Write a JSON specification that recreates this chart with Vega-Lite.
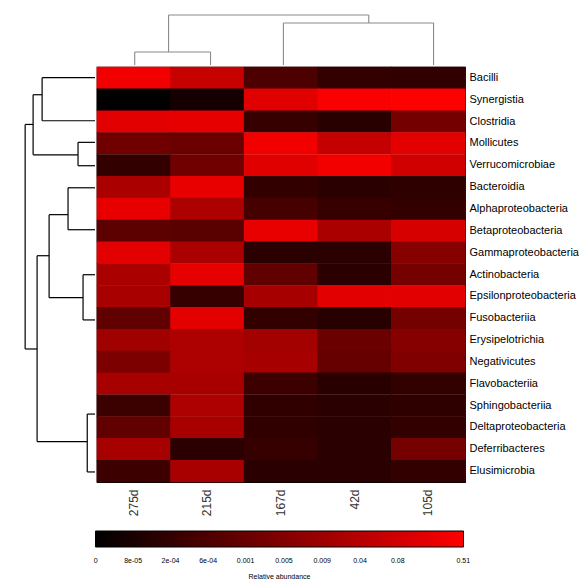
{
  "$schema": "https://vega.github.io/schema/vega-lite/v6.json",
  "padding": 0,
  "background": "white",
  "config": {
    "view": {"stroke": null},
    "font": "Liberation Sans",
    "axis": {"labelFont": "Liberation Sans"},
    "legend": {"labelFont": "Liberation Sans", "titleFont": "Liberation Sans"}
  },
  "spacing": 0,
  "vconcat": [
    {
      "width": 463,
      "height": 65,
      "data": {
        "values": [
          {"c1": 0.54, "c2": 0.54, "h1": 0, "h2": 0.26},
          {"c1": 1.57, "c2": 1.57, "h1": 0, "h2": 0.26},
          {"c1": 0.54, "c2": 1.57, "h1": 0.26, "h2": 0.26},
          {"c1": 1.0, "c2": 1.0, "h1": 0.26, "h2": 1.0},
          {"c1": 1.0, "c2": 3.72, "h1": 1.0, "h2": 1.0},
          {"c1": 3.72, "c2": 3.72, "h1": 0.84, "h2": 1.0},
          {"c1": 2.56, "c2": 4.6, "h1": 0.84, "h2": 0.84},
          {"c1": 2.56, "c2": 2.56, "h1": 0, "h2": 0.84},
          {"c1": 4.6, "c2": 4.6, "h1": 0, "h2": 0.84}
        ]
      },
      "mark": {"type": "rule", "color": "#8a8a8a", "strokeWidth": 1.1},
      "encoding": {
        "x": {"field": "c1", "type": "quantitative", "scale": {"domain": [-1.29, 5], "nice": false, "zero": false}, "axis": null},
        "x2": {"field": "c2"},
        "y": {"field": "h1", "type": "quantitative", "scale": {"domain": [0, 1.3], "nice": false}, "axis": null},
        "y2": {"field": "h2"}
      }
    },
    {
      "spacing": 0,
      "hconcat": [
        {
          "width": 95,
          "height": 415,
          "data": {
            "values": [
              {"h1": 0.757, "h2": 0, "r1": 0.49, "r2": 0.49},
              {"h1": 0.757, "h2": 0, "r1": 2.46, "r2": 2.46},
              {"h1": 0.757, "h2": 0.757, "r1": 0.49, "r2": 2.46},
              {"h1": 0.886, "h2": 0.757, "r1": 1.27, "r2": 1.27},
              {"h1": 0.886, "h2": 0.886, "r1": 1.27, "r2": 4.02},
              {"h1": 0.886, "h2": 0.243, "r1": 4.02, "r2": 4.02},
              {"h1": 0.243, "h2": 0.243, "r1": 3.45, "r2": 4.52},
              {"h1": 0.243, "h2": 0, "r1": 3.45, "r2": 3.45},
              {"h1": 0.243, "h2": 0, "r1": 4.52, "r2": 4.52},
              {"h1": 1.0, "h2": 0.886, "r1": 2.63, "r2": 2.63},
              {"h1": 1.0, "h2": 1.0, "r1": 2.63, "r2": 12.91},
              {"h1": 1.0, "h2": 0.829, "r1": 12.91, "r2": 12.91},
              {"h1": 0.829, "h2": 0.829, "r1": 8.64, "r2": 17.15},
              {"h1": 0.829, "h2": 0.657, "r1": 8.64, "r2": 8.64},
              {"h1": 0.657, "h2": 0.657, "r1": 6.76, "r2": 10.56},
              {"h1": 0.657, "h2": 0.386, "r1": 6.76, "r2": 6.76},
              {"h1": 0.386, "h2": 0.386, "r1": 5.53, "r2": 7.45},
              {"h1": 0.386, "h2": 0, "r1": 5.53, "r2": 5.53},
              {"h1": 0.386, "h2": 0, "r1": 7.45, "r2": 7.45},
              {"h1": 0.657, "h2": 0.171, "r1": 10.56, "r2": 10.56},
              {"h1": 0.171, "h2": 0.171, "r1": 9.51, "r2": 11.58},
              {"h1": 0.171, "h2": 0, "r1": 9.51, "r2": 9.51},
              {"h1": 0.171, "h2": 0, "r1": 11.58, "r2": 11.58},
              {"h1": 0.829, "h2": 0.111, "r1": 17.15, "r2": 17.15},
              {"h1": 0.111, "h2": 0.111, "r1": 15.89, "r2": 18.54},
              {"h1": 0.111, "h2": 0, "r1": 15.89, "r2": 15.89},
              {"h1": 0.111, "h2": 0, "r1": 18.54, "r2": 18.54}
            ]
          },
          "mark": {"type": "rule", "color": "black", "strokeWidth": 1.2},
          "encoding": {
            "x": {"field": "h1", "type": "quantitative", "scale": {"domain": [0, 1.36], "nice": false, "reverse": true}, "axis": null},
            "x2": {"field": "h2"},
            "y": {"field": "r1", "type": "quantitative", "scale": {"domain": [0, 19], "nice": false, "reverse": true}, "axis": null},
            "y2": {"field": "r2"}
          }
        },
        {
          "width": 368,
          "height": 415,
          "view": {"stroke": "black", "strokeWidth": 1.2},
          "data": {
            "values": [
              {"taxon": "Bacilli", "day": "275d", "k": 0.95},
              {"taxon": "Bacilli", "day": "215d", "k": 0.78},
              {"taxon": "Bacilli", "day": "167d", "k": 0.30},
              {"taxon": "Bacilli", "day": "42d", "k": 0.20},
              {"taxon": "Bacilli", "day": "105d", "k": 0.19},
              {"taxon": "Synergistia", "day": "275d", "k": 0.0},
              {"taxon": "Synergistia", "day": "215d", "k": 0.08},
              {"taxon": "Synergistia", "day": "167d", "k": 0.88},
              {"taxon": "Synergistia", "day": "42d", "k": 0.98},
              {"taxon": "Synergistia", "day": "105d", "k": 1.0},
              {"taxon": "Clostridia", "day": "275d", "k": 0.89},
              {"taxon": "Clostridia", "day": "215d", "k": 0.90},
              {"taxon": "Clostridia", "day": "167d", "k": 0.21},
              {"taxon": "Clostridia", "day": "42d", "k": 0.16},
              {"taxon": "Clostridia", "day": "105d", "k": 0.46},
              {"taxon": "Mollicutes", "day": "275d", "k": 0.44},
              {"taxon": "Mollicutes", "day": "215d", "k": 0.42},
              {"taxon": "Mollicutes", "day": "167d", "k": 0.95},
              {"taxon": "Mollicutes", "day": "42d", "k": 0.77},
              {"taxon": "Mollicutes", "day": "105d", "k": 0.89},
              {"taxon": "Verrucomicrobiae", "day": "275d", "k": 0.20},
              {"taxon": "Verrucomicrobiae", "day": "215d", "k": 0.44},
              {"taxon": "Verrucomicrobiae", "day": "167d", "k": 0.88},
              {"taxon": "Verrucomicrobiae", "day": "42d", "k": 0.95},
              {"taxon": "Verrucomicrobiae", "day": "105d", "k": 0.82},
              {"taxon": "Bacteroidia", "day": "275d", "k": 0.67},
              {"taxon": "Bacteroidia", "day": "215d", "k": 0.91},
              {"taxon": "Bacteroidia", "day": "167d", "k": 0.20},
              {"taxon": "Bacteroidia", "day": "42d", "k": 0.17},
              {"taxon": "Bacteroidia", "day": "105d", "k": 0.18},
              {"taxon": "Alphaproteobacteria", "day": "275d", "k": 0.91},
              {"taxon": "Alphaproteobacteria", "day": "215d", "k": 0.68},
              {"taxon": "Alphaproteobacteria", "day": "167d", "k": 0.28},
              {"taxon": "Alphaproteobacteria", "day": "42d", "k": 0.21},
              {"taxon": "Alphaproteobacteria", "day": "105d", "k": 0.20},
              {"taxon": "Betaproteobacteria", "day": "275d", "k": 0.36},
              {"taxon": "Betaproteobacteria", "day": "215d", "k": 0.35},
              {"taxon": "Betaproteobacteria", "day": "167d", "k": 0.91},
              {"taxon": "Betaproteobacteria", "day": "42d", "k": 0.67},
              {"taxon": "Betaproteobacteria", "day": "105d", "k": 0.84},
              {"taxon": "Gammaproteobacteria", "day": "275d", "k": 0.89},
              {"taxon": "Gammaproteobacteria", "day": "215d", "k": 0.67},
              {"taxon": "Gammaproteobacteria", "day": "167d", "k": 0.17},
              {"taxon": "Gammaproteobacteria", "day": "42d", "k": 0.17},
              {"taxon": "Gammaproteobacteria", "day": "105d", "k": 0.53},
              {"taxon": "Actinobacteria", "day": "275d", "k": 0.67},
              {"taxon": "Actinobacteria", "day": "215d", "k": 0.90},
              {"taxon": "Actinobacteria", "day": "167d", "k": 0.38},
              {"taxon": "Actinobacteria", "day": "42d", "k": 0.17},
              {"taxon": "Actinobacteria", "day": "105d", "k": 0.46},
              {"taxon": "Epsilonproteobacteria", "day": "275d", "k": 0.66},
              {"taxon": "Epsilonproteobacteria", "day": "215d", "k": 0.21},
              {"taxon": "Epsilonproteobacteria", "day": "167d", "k": 0.65},
              {"taxon": "Epsilonproteobacteria", "day": "42d", "k": 0.89},
              {"taxon": "Epsilonproteobacteria", "day": "105d", "k": 0.89},
              {"taxon": "Fusobacteriia", "day": "275d", "k": 0.38},
              {"taxon": "Fusobacteriia", "day": "215d", "k": 0.89},
              {"taxon": "Fusobacteriia", "day": "167d", "k": 0.20},
              {"taxon": "Fusobacteriia", "day": "42d", "k": 0.16},
              {"taxon": "Fusobacteriia", "day": "105d", "k": 0.46},
              {"taxon": "Erysipelotrichia", "day": "275d", "k": 0.63},
              {"taxon": "Erysipelotrichia", "day": "215d", "k": 0.68},
              {"taxon": "Erysipelotrichia", "day": "167d", "k": 0.64},
              {"taxon": "Erysipelotrichia", "day": "42d", "k": 0.42},
              {"taxon": "Erysipelotrichia", "day": "105d", "k": 0.53},
              {"taxon": "Negativicutes", "day": "275d", "k": 0.49},
              {"taxon": "Negativicutes", "day": "215d", "k": 0.68},
              {"taxon": "Negativicutes", "day": "167d", "k": 0.65},
              {"taxon": "Negativicutes", "day": "42d", "k": 0.40},
              {"taxon": "Negativicutes", "day": "105d", "k": 0.50},
              {"taxon": "Flavobacteriia", "day": "275d", "k": 0.65},
              {"taxon": "Flavobacteriia", "day": "215d", "k": 0.66},
              {"taxon": "Flavobacteriia", "day": "167d", "k": 0.24},
              {"taxon": "Flavobacteriia", "day": "42d", "k": 0.16},
              {"taxon": "Flavobacteriia", "day": "105d", "k": 0.20},
              {"taxon": "Sphingobacteriia", "day": "275d", "k": 0.23},
              {"taxon": "Sphingobacteriia", "day": "215d", "k": 0.68},
              {"taxon": "Sphingobacteriia", "day": "167d", "k": 0.19},
              {"taxon": "Sphingobacteriia", "day": "42d", "k": 0.17},
              {"taxon": "Sphingobacteriia", "day": "105d", "k": 0.18},
              {"taxon": "Deltaproteobacteria", "day": "275d", "k": 0.38},
              {"taxon": "Deltaproteobacteria", "day": "215d", "k": 0.66},
              {"taxon": "Deltaproteobacteria", "day": "167d", "k": 0.19},
              {"taxon": "Deltaproteobacteria", "day": "42d", "k": 0.17},
              {"taxon": "Deltaproteobacteria", "day": "105d", "k": 0.20},
              {"taxon": "Deferribacteres", "day": "275d", "k": 0.65},
              {"taxon": "Deferribacteres", "day": "215d", "k": 0.17},
              {"taxon": "Deferribacteres", "day": "167d", "k": 0.21},
              {"taxon": "Deferribacteres", "day": "42d", "k": 0.17},
              {"taxon": "Deferribacteres", "day": "105d", "k": 0.46},
              {"taxon": "Elusimicrobia", "day": "275d", "k": 0.24},
              {"taxon": "Elusimicrobia", "day": "215d", "k": 0.66},
              {"taxon": "Elusimicrobia", "day": "167d", "k": 0.17},
              {"taxon": "Elusimicrobia", "day": "42d", "k": 0.17},
              {"taxon": "Elusimicrobia", "day": "105d", "k": 0.20}
            ]
          },
          "mark": {"type": "rect", "width": {"band": 1.01}, "height": {"band": 1.02}},
          "encoding": {
            "x": {
              "field": "day", "type": "nominal",
              "sort": ["275d", "215d", "167d", "42d", "105d"],
              "scale": {"paddingInner": 0, "paddingOuter": 0},
              "axis": {"title": null, "orient": "bottom", "labelAngle": -90, "ticks": false, "domain": false, "labelPadding": 7, "labelFontSize": 12, "labelColor": "#333333"}
            },
            "y": {
              "field": "taxon", "type": "nominal",
              "sort": ["Bacilli", "Synergistia", "Clostridia", "Mollicutes", "Verrucomicrobiae", "Bacteroidia", "Alphaproteobacteria", "Betaproteobacteria", "Gammaproteobacteria", "Actinobacteria", "Epsilonproteobacteria", "Fusobacteriia", "Erysipelotrichia", "Negativicutes", "Flavobacteriia", "Sphingobacteriia", "Deltaproteobacteria", "Deferribacteres", "Elusimicrobia"],
              "scale": {"paddingInner": 0, "paddingOuter": 0},
              "axis": {"title": null, "orient": "right", "ticks": false, "domain": false, "labelPadding": 4, "labelFontSize": 11, "labelColor": "black"}
            },
            "color": {
              "field": "k", "type": "quantitative",
              "scale": {"domain": [0, 1], "range": ["#000000", "#ff0000"], "interpolate": "rgb"},
              "legend": {
                "orient": "none",
                "legendX": 95.5,
                "legendY": 531,
                "direction": "horizontal",
                "gradientLength": 368,
                "gradientThickness": 16,
                "gradientStrokeColor": "black",
                "gradientStrokeWidth": 1,
                "values": [0.0005, 0.1023, 0.2039, 0.3062, 0.4079, 0.512, 0.6162, 0.7187, 0.8213, 0.9995],
                "labelExpr": "datum.value < 0.05 ? '0' : datum.value < 0.15 ? '8e-05' : datum.value < 0.25 ? '2e-04' : datum.value < 0.35 ? '6e-04' : datum.value < 0.45 ? '0.001' : datum.value < 0.55 ? '0.005' : datum.value < 0.65 ? '0.009' : datum.value < 0.75 ? '0.04' : datum.value < 0.9 ? '0.08' : '0.51'",
                "labelAlign": "center",
                "labelOverlap": false,
                "labelFontSize": 7,
                "labelColor": "black",
                "labelOffset": 10,
                "title": "Relative abundance",
                "titleOrient": "bottom",
                "titleAnchor": "middle",
                "titleFontSize": 7,
                "titleFontWeight": "normal",
                "titleColor": "black",
                "titlePadding": 9
              }
            }
          }
        }
      ]
    }
  ]
}
